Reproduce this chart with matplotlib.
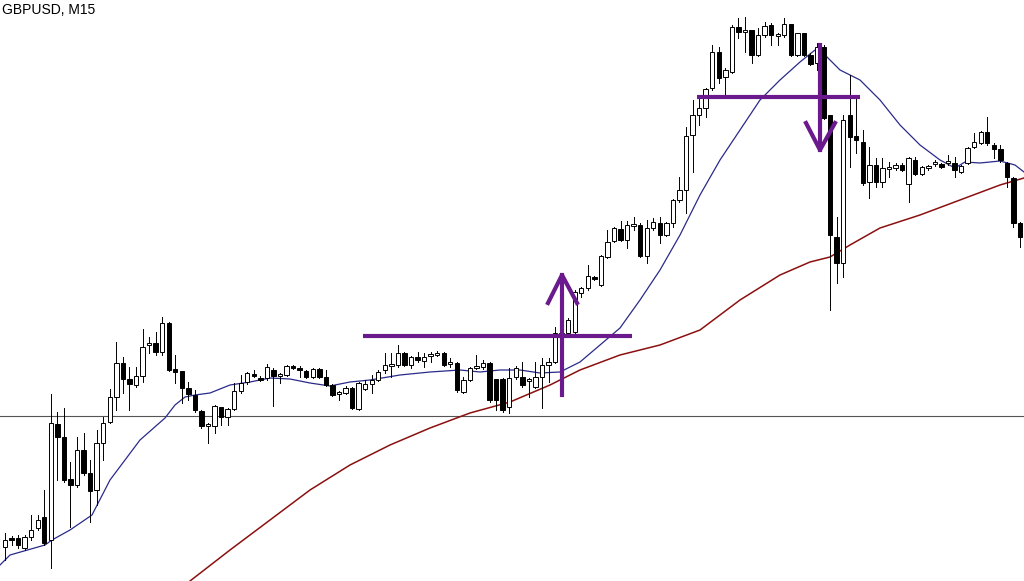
import matplotlib
matplotlib.use("Agg")
import matplotlib.pyplot as plt

# Candles in screen-price units (smaller = higher): kind, body_top, body_bottom, high, low
candles = [
("w",540,547,533,560),("b",538,540,536,545),("b",538,545,535,548),("w",537,548,535,550),
("w",530,537,515,540),("w",520,528,515,530),("b",517,543,490,545),("w",423,540,394,568),
("b",424,437,412,480),("b",437,480,408,482),("b",479,485,462,527),("w",450,485,437,487),
("b",450,473,433,475),("b",473,491,460,522),("w",443,490,430,505),("w",423,443,417,460),
("w",397,422,389,423),("w",363,397,342,410),("b",363,379,357,393),("b",379,384,367,410),
("w",376,385,367,387),("w",347,376,329,382),("w",343,345,337,353),("b",343,352,332,355),
("w",323,352,317,355),("b",323,370,322,371),("b",369,372,355,383),("b",371,388,371,403),
("b",388,394,382,400),("b",395,410,390,412),("b",411,426,410,428),("w",424,426,423,443),
("w",406,426,405,433),("b",407,417,407,425),("w",409,417,408,425),("w",391,409,383,410),
("w",383,391,375,393),("w",373,382,372,384),("b",374,376,370,377),
("b",378,380,376,381),("w",367,378,364,380),("b",370,376,368,406),("w",374,376,373,383),
("w",366,375,365,376),("b",366,368,365,369),("b",368,370,366,377),("b",371,377,370,378),
("w",369,377,368,378),("b",369,377,368,378),("b",377,385,370,386),("b",385,395,384,396),
("w",392,394,391,400),("w",388,393,386,394),("b",388,408,387,409),("w",383,409,382,410),
("w",384,389,380,390),("w",380,384,375,393),("w",372,380,370,381),("w",365,370,353,373),
("w",364,366,353,377),("w",353,365,345,367),("b",353,365,352,366),("w",357,365,356,368),
("b",357,360,352,362),("w",357,361,353,367),("w",354,356,352,362),("w",353,355,351,356),
("b",353,365,352,366),("w",362,364,358,367),("b",363,390,362,392),("w",380,392,377,393),
("w",368,380,367,381),("w",366,368,355,369),("w",363,367,360,369),("b",363,400,362,402),
("b",379,400,379,410),("b",379,410,378,412),("w",378,407,368,413),("w",368,377,366,379),
("b",377,385,362,387),("w",379,381,378,397),("w",377,387,362,388),("w",365,377,358,408),
("w",362,365,358,382),("w",333,362,327,363),("w",333,335,331,337),("w",320,333,318,334),
("w",292,332,290,333),("w",288,293,287,297),("w",276,288,265,290),("b",277,279,276,280),
("w",256,285,255,286),("w",242,257,230,258),("w",228,241,227,242),("b",229,240,221,241),
("w",225,240,221,248),("w",224,226,217,230),("b",225,256,223,257),("w",228,256,220,263),
("w",222,228,218,230),("b",223,235,217,243),("w",223,235,222,236),("w",200,223,199,227),
("w",190,200,177,202),("w",136,190,127,213),("w",115,135,100,172),("w",108,115,99,125),
("w",89,108,88,117),("w",52,88,45,90),("b",52,78,47,83),("w",70,77,68,95),
("w",27,72,25,73),("b",27,32,18,38),("w",30,32,17,52),("b",30,55,30,63),
("w",35,55,28,56),("w",26,35,22,37),("b",25,35,23,45),("w",34,36,33,45),
("w",24,35,18,37),("b",24,55,24,56),("w",33,55,33,56),("b",33,55,33,56),
("b",55,64,53,65),("w",47,63,43,70),("b",47,118,45,119),("b",115,235,115,310),
("b",237,263,217,283),("w",120,263,115,277),("b",115,137,75,167),("b",136,140,97,153),
("b",142,183,130,185),("w",165,182,147,198),("b",165,182,158,187),("w",168,182,158,187),
("w",167,169,162,177),("w",165,168,163,170),("b",165,170,163,171),("w",158,184,157,202),
("b",160,174,157,175),("w",167,174,166,175),("w",166,168,165,170),("w",162,164,160,166),
("b",164,167,163,168),("w",161,163,155,165),("b",163,170,157,177),("w",166,172,165,173),
("w",148,163,147,164),("w",142,147,133,148),("w",132,143,131,144),("b",132,143,117,145),
("b",145,149,143,158),("b",149,160,145,162),("b",163,177,162,187),("b",178,223,177,227),
("b",223,237,222,247),
]

# moving averages sampled along the chart (x in screen units, value in screen-price units)
fast_x = [0,10,45,52,70,92,110,140,165,175,185,195,210,230,250,270,290,310,330,350,370,400,430,460,480,500,520,540,560,580,600,620,640,660,680,700,720,740,760,780,800,815,825,840,860,880,900,920,940,955,965,980,1000,1015,1024]
fast_y = [565,555,545,540,530,515,480,440,418,405,397,395,393,385,382,378,379,383,386,382,380,375,372,370,372,370,370,373,372,362,345,328,300,270,235,195,160,130,100,80,62,50,55,70,80,100,125,145,160,168,162,163,161,165,172]
slow_x = [190,230,270,310,350,390,430,470,510,550,580,620,660,700,740,780,810,830,850,880,920,960,1000,1024]
slow_y = [581,550,520,490,465,445,428,413,402,385,370,355,345,330,300,275,262,257,245,228,215,200,185,178]

fig = plt.figure(figsize=(10.24,5.81), dpi=100)
ax = fig.add_axes([0,0,1,1])
ax.set_xlim(0,1024); ax.set_ylim(581,0); ax.axis("off")

n = len(candles)
step = (1020-5)/(n-1)
for i,(k,t,b,h,l) in enumerate(candles):
    x = 5 + i*step
    ax.plot([x,x],[h,t],color="black",lw=0.7,zorder=3)
    ax.plot([x,x],[b,l],color="black",lw=0.7,zorder=3)
    hgt = max(b-t,1)
    ax.add_patch(plt.Rectangle((x-2.2,t),4.4,hgt,facecolor="white" if k=="w" else "black",
                               edgecolor="black",lw=0.7,zorder=4))

ax.axhline(416,color="#555555",lw=0.8,zorder=1)
ax.plot(fast_x,fast_y,color="#2a2a8a",lw=0.9,zorder=2)
ax.plot(slow_x,slow_y,color="#8b1010",lw=1.1,zorder=2)

pc = "#6a1a8c"
ax.plot([363,632],[336,336],color=pc,lw=3,zorder=5,solid_capstyle="butt")
ax.plot([562,562],[395,275],color=pc,lw=3,zorder=5)
ax.plot([548,562,577],[303,275,303],color=pc,lw=3,zorder=5)
ax.plot([697,860],[97,97],color=pc,lw=3,zorder=5,solid_capstyle="butt")
ax.plot([820,820],[45,150],color=pc,lw=3,zorder=5)
ax.plot([806,820,835],[123,150,123],color=pc,lw=3,zorder=5)

ax.text(2,10,"GBPUSD, M15",fontsize=10,va="center",ha="left",family="Liberation Sans")
fig.savefig("out.png",dpi=100)
